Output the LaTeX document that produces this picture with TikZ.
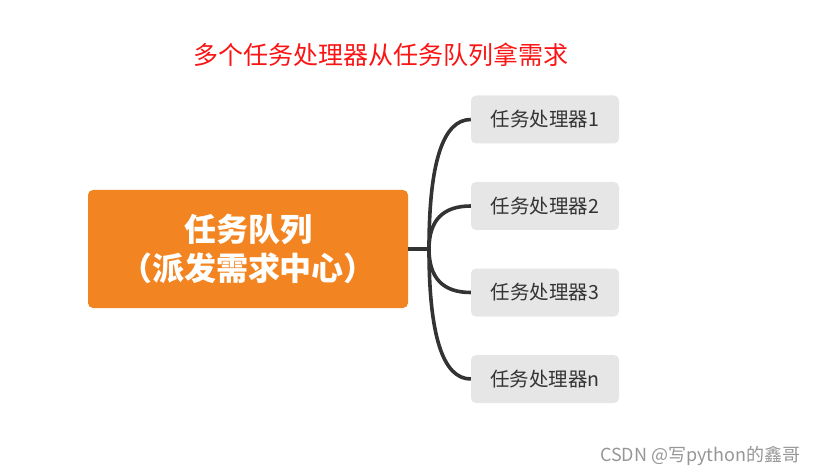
\documentclass[tikz,border=0pt]{standalone}
\usepackage{fontspec}
\setmainfont{Noto Sans CJK SC}
\usepackage{tikz}
\usetikzlibrary{calc}
\definecolor{queueorange}{RGB}{242,133,33}
\definecolor{procgray}{RGB}{230,230,230}
\definecolor{linkdark}{RGB}{51,51,51}
\definecolor{titlered}{RGB}{250,20,20}
\definecolor{markgray}{RGB}{150,150,150}

\begin{document}
\begin{tikzpicture}[x=1pt,y=-1pt,
		queue/.style={fill=queueorange,rounded corners=5pt,minimum width=320pt,minimum height=118pt,inner sep=0pt,align=center,text=white,font=\fontsize{32}{39}\selectfont\bfseries},
		proc/.style={fill=procgray,rounded corners=5pt,minimum width=148pt,minimum height=48pt,inner sep=0pt,text=linkdark,font=\fontsize{19.5}{24}\selectfont},
		link/.style={draw=linkdark,line width=3.6pt}]
		\useasboundingbox (0,0) rectangle (820,476);
		\begin{scope}
			\node[text=titlered,font=\fontsize{25}{30}\selectfont] (title) at (381,55) {多个任务处理器从任务队列拿需求};
		
			\node[queue] (q) at (248,249) {任务队列\\（派发需求中心）};
		
			\node[proc] (p1) at (545,119.5) {任务处理器1};
			\node[proc] (p2) at (545,206) {任务处理器2};
			\node[proc] (p3) at (545,292.5) {任务处理器3};
			\node[proc] (pn) at (545,379) {任务处理器n};
		
			\coordinate (j) at (429,249);
			\draw[link] (q.east) -- ([xshift=1pt]j);
			\foreach \p in {p1,p2,p3,pn}
				\draw[link] (j) .. controls ($(j)!0.667!(j |- \p)$) and ($(\p.west)!0.667!(j |- \p)$) .. (\p.west);
		
			\node[anchor=east,text=markgray,font=\fontsize{18}{20}\selectfont] (mark) at (804,456) {CSDN @写python的鑫哥};
		\end{scope}
	\end{tikzpicture}
\end{document}
